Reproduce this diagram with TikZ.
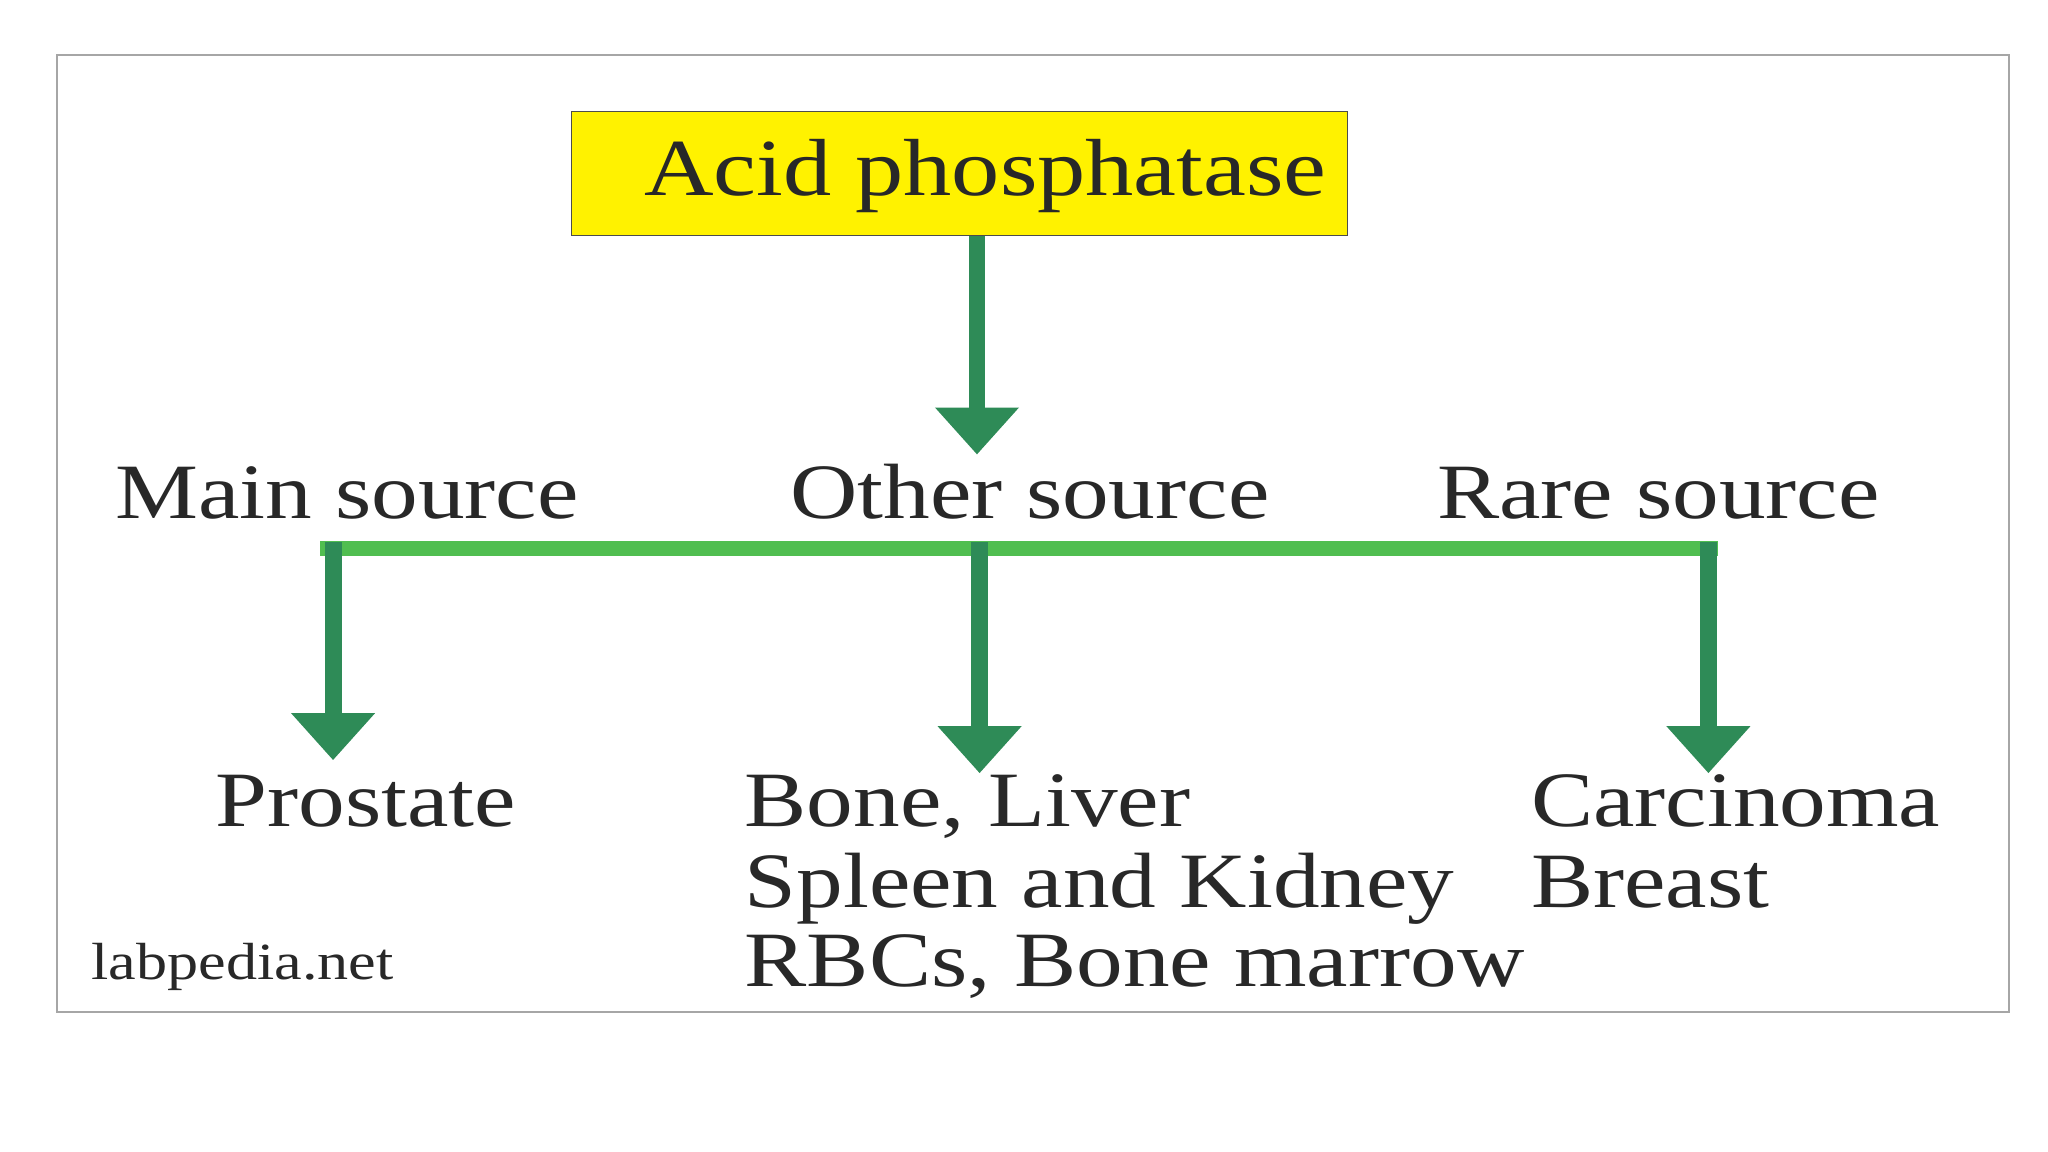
\documentclass[tikz,border=0pt]{standalone}
\usepackage{fontspec}
\setmainfont[FakeStretch=1.19]{Liberation Serif}
\usetikzlibrary{arrows.meta}
\definecolor{arr}{RGB}{46,139,87}
\definecolor{bar}{RGB}{80,190,80}
\definecolor{txt}{RGB}{40,40,40}
\begin{document}
\begin{tikzpicture}[x=1pt,y=-1pt,
  lbl/.style={anchor=base west,inner sep=0pt,text=txt,font=\fontsize{60}{62}\selectfont},
  garrow/.style={draw=arr,line width=13pt,-{Triangle[width=62pt,length=36pt]}}]
\useasboundingbox (0,0) rectangle (1568,882);
\fill[white] (0,0) rectangle (1568,882);
\draw[gray!70,line width=1.5pt] (44,42) rectangle (1538,775);
\node[draw=black!70,fill=yellow,line width=1pt,minimum width=594pt,minimum height=95pt,anchor=north west,inner sep=0pt] (top) at (437,85) {};
\node[lbl,font=\fontsize{62}{64}\selectfont] (topt) at (493,150) {Acid phosphatase};
\coordinate (tip0) at (748,348);
\draw[garrow] (top.south -| tip0) -- (tip0);
\coordinate (bl) at (245,420);
\coordinate (br) at (1315,420);
\draw[bar,line width=11pt] (bl) -- (br);
\coordinate (a1) at (255,415); \coordinate (t1) at (255,582);
\coordinate (a2) at (750,415); \coordinate (t2) at (750,592);
\coordinate (a3) at (1308,415); \coordinate (t3) at (1308,592);
\draw[garrow] (a1) -- (t1);
\draw[garrow] (a2) -- (t2);
\draw[garrow] (a3) -- (t3);
\node[lbl] (ms) at (88,397) {Main source};
\node[lbl] (os) at (605,397) {Other source};
\node[lbl] (rs) at (1100,397) {Rare source};
\node[lbl] (pr) at (165,633) {Prostate};
\node[lbl] (b1) at (570,633) {Bone, Liver};
\node[lbl] (b2) at (570,695) {Spleen and Kidney};
\node[lbl] (b3) at (570,755) {RBCs, Bone marrow};
\node[lbl] (c1) at (1172,633) {Carcinoma};
\node[lbl] (c2) at (1172,695) {Breast};
\node[lbl,font=\fontsize{40}{42}\selectfont] (lp) at (70,750) {labpedia.net};
\end{tikzpicture}
\end{document}
